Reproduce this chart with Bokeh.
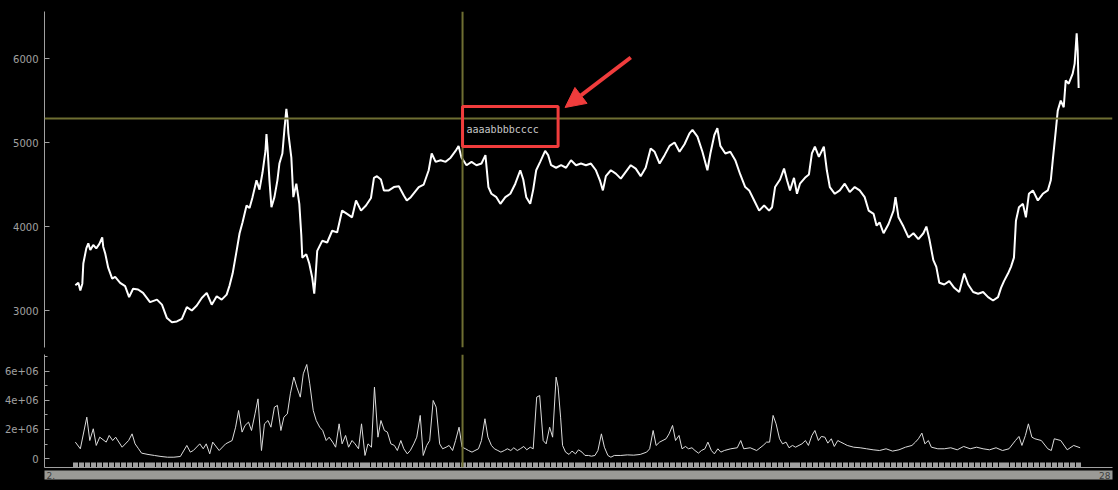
from bokeh.plotting import figure
from bokeh.layouts import column
from bokeh.models import (Span, BoxAnnotation, Arrow, NormalHead, FixedTicker,
                          Range1d, Label, CustomJSTickFormatter)
from bokeh.embed import file_html
from bokeh.resources import INLINE

# ---------------- data ----------------
price_days = [0, 6, 10, 14, 16, 22, 26, 30, 36, 42, 48, 54, 56, 60, 66, 74, 80, 90, 100, 108,
              116, 126, 136, 150, 164, 174, 184, 194, 204, 214, 224, 234, 244, 254, 264, 274, 284, 294, 304, 310,
              316, 324, 330, 336, 344, 350, 356, 364, 370, 376, 382, 384, 386, 390, 394, 400, 406, 410, 416, 420,
              424, 426, 428, 434, 438, 444, 450, 454, 456, 464, 470, 476, 480, 482, 486, 496, 506, 516, 526, 536,
              546, 556, 564, 574, 584, 594, 600, 606, 614, 620, 630, 640, 650, 660, 666, 674, 690, 700, 710, 716,
              724, 734, 744, 754, 764, 770, 776, 786, 796, 806, 816, 824, 830, 836, 846, 854, 864, 874, 884, 894,
              900, 906, 914, 920, 926, 934, 944, 950, 956, 966, 976, 986, 996, 1006, 1016, 1026, 1036, 1046, 1054, 1060,
              1066, 1076, 1086, 1096, 1106, 1116, 1126, 1136, 1146, 1156, 1164, 1174, 1184, 1194, 1204, 1214, 1224, 1234, 1240, 1250,
              1260, 1270, 1276, 1284, 1290, 1296, 1306, 1316, 1326, 1336, 1346, 1354, 1364, 1374, 1384, 1394, 1400, 1406, 1416, 1424,
              1430, 1436, 1444, 1450, 1456, 1466, 1474, 1480, 1486, 1494, 1504, 1510, 1516, 1526, 1536, 1546, 1556, 1566, 1576, 1586,
              1594, 1604, 1610, 1616, 1624, 1634, 1644, 1648, 1654, 1664, 1674, 1684, 1694, 1704, 1710, 1716, 1724, 1730, 1736, 1746,
              1756, 1766, 1776, 1786, 1794, 1804, 1814, 1824, 1834, 1844, 1854, 1860, 1866, 1874, 1880, 1886, 1890, 1896, 1904, 1910,
              1916, 1924, 1934, 1944, 1954, 1960, 1964, 1970, 1974, 1980, 1986, 1990, 1996, 2004, 2008, 2012, 2014, 2016]
price = [3300, 3330, 3240, 3320, 3560, 3740, 3800, 3720, 3780, 3740, 3790, 3870, 3760, 3680, 3510, 3380, 3400, 3330, 3290, 3160,
         3260, 3250, 3210, 3100, 3130, 3070, 2910, 2860, 2870, 2900, 3040, 3000, 3060, 3150, 3210, 3070, 3170, 3130, 3190, 3300,
         3440, 3710, 3920, 4050, 4250, 4220, 4350, 4550, 4440, 4640, 4900, 5100, 4950, 4550, 4230, 4350, 4550, 4750, 4870, 5150,
         5400, 5300, 5110, 4820, 4350, 4510, 4270, 3900, 3630, 3670, 3560, 3390, 3200, 3350, 3710, 3830, 3810, 3950, 3930, 4190,
         4150, 4110, 4310, 4190, 4250, 4340, 4580, 4600, 4560, 4430, 4430, 4470, 4480, 4370, 4310, 4350, 4470, 4500, 4670, 4870,
         4770, 4790, 4770, 4820, 4900, 4960, 4820, 4730, 4770, 4730, 4750, 4850, 4470, 4390, 4350, 4270, 4350, 4390, 4510, 4670,
         4560, 4350, 4270, 4440, 4670, 4770, 4900, 4850, 4730, 4700, 4730, 4700, 4790, 4730, 4750, 4730, 4750, 4670, 4550, 4430,
         4600, 4670, 4630, 4570, 4650, 4730, 4690, 4600, 4700, 4930, 4890, 4750, 4850, 4960, 5000, 4890, 4980, 5110, 5150, 5070,
         4890, 4670, 4870, 5090, 5170, 4960, 4870, 4890, 4790, 4620, 4470, 4430, 4310, 4190, 4250, 4190, 4230, 4470, 4560, 4690,
         4550, 4430, 4580, 4390, 4510, 4580, 4620, 4870, 4950, 4830, 4950, 4670, 4470, 4390, 4430, 4510, 4410, 4470, 4430, 4350,
         4190, 4150, 4010, 4050, 3920, 4030, 4190, 4350, 4110, 4000, 3870, 3920, 3850, 3920, 4000, 3850, 3600, 3520, 3330, 3310,
         3350, 3270, 3220, 3440, 3310, 3220, 3200, 3220, 3160, 3120, 3160, 3270, 3350, 3440, 3520, 3630, 4070, 4230, 4270, 4110,
         4390, 4430, 4310, 4390, 4430, 4550, 4790, 5140, 5380, 5500, 5420, 5740, 5700, 5820, 5940, 6300, 6100, 5650]

vol_days = [0, 10, 23, 29, 36, 42, 49, 62, 68, 75, 81, 94, 107, 114, 120, 127, 133, 146, 159, 172,
            185, 198, 211, 224, 231, 237, 250, 257, 263, 270, 276, 289, 302, 315, 322, 328, 335, 341, 348, 354,
            361, 367, 374, 380, 387, 393, 400, 406, 413, 419, 426, 432, 439, 445, 452, 458, 465, 471, 478, 484,
            491, 497, 504, 510, 517, 523, 530, 536, 543, 549, 556, 562, 569, 575, 582, 588, 595, 601, 608, 614,
            621, 627, 634, 641, 647, 654, 660, 667, 673, 680, 686, 693, 699, 706, 712, 719, 725, 732, 738, 745,
            751, 758, 764, 771, 777, 784, 790, 797, 803, 810, 816, 823, 829, 836, 842, 849, 855, 862, 868, 875,
            881, 888, 894, 901, 907, 914, 920, 927, 933, 940, 946, 953, 959, 966, 970, 975, 979, 985, 992, 998,
            1005, 1011, 1018, 1024, 1031, 1037, 1044, 1050, 1057, 1063, 1070, 1076, 1083, 1096, 1109, 1122, 1135, 1148, 1154, 1161,
            1167, 1174, 1187, 1193, 1200, 1206, 1213, 1219, 1226, 1232, 1239, 1245, 1252, 1258, 1265, 1271, 1278, 1284, 1291, 1297,
            1304, 1317, 1330, 1337, 1343, 1356, 1369, 1382, 1389, 1395, 1402, 1408, 1415, 1421, 1428, 1434, 1441, 1447, 1460, 1467,
            1473, 1480, 1486, 1493, 1499, 1506, 1512, 1519, 1525, 1532, 1538, 1545, 1551, 1564, 1577, 1590, 1603, 1616, 1629, 1642,
            1655, 1668, 1681, 1688, 1694, 1701, 1707, 1714, 1720, 1733, 1746, 1759, 1772, 1785, 1798, 1811, 1824, 1837, 1850, 1863,
            1876, 1889, 1896, 1902, 1909, 1915, 1922, 1928, 1941, 1954, 1961, 1967, 1980, 1993, 2006, 2019]
vol_m = [1.13, 0.67, 2.85, 1.24, 2.05, 0.90, 1.47, 1.13, 1.59, 1.24, 1.47, 0.78, 1.24, 1.70, 1.01, 0.67, 0.37, 0.28, 0.21, 0.14,
         0.09, 0.09, 0.14, 0.90, 0.44, 0.55, 1.01, 0.67, 1.01, 0.32, 1.13, 0.55, 1.01, 1.24, 2.16, 3.31, 1.82, 2.28, 2.51, 1.93,
         3.08, 4.11, 0.55, 2.39, 2.62, 2.16, 3.54, 3.66, 1.93, 2.85, 3.08, 4.46, 5.61, 4.92, 4.23, 5.84, 6.48, 5.15, 3.31, 2.62,
         2.16, 1.93, 1.24, 1.47, 1.13, 0.78, 2.39, 1.01, 1.59, 0.78, 1.24, 1.01, 0.67, 2.39, 0.21, 1.01, 0.78, 4.92, 1.47, 2.62,
         1.93, 1.82, 1.01, 0.90, 0.55, 1.24, 0.67, 0.32, 0.55, 1.01, 1.47, 2.97, 0.21, 0.90, 1.24, 4.00, 3.54, 1.01, 0.67, 0.78,
         0.90, 0.55, 1.24, 2.16, 0.78, 0.67, 0.55, 0.44, 0.55, 0.67, 1.24, 2.74, 1.47, 0.90, 0.67, 0.55, 0.44, 0.55, 0.67, 0.55,
         0.74, 0.55, 0.67, 0.83, 0.60, 0.78, 0.67, 4.23, 4.34, 1.24, 1.01, 2.16, 1.47, 5.61, 4.92, 2.85, 0.90, 0.44, 0.28, 0.51,
         0.32, 0.60, 0.44, 0.21, 0.21, 0.16, 0.21, 0.55, 1.70, 0.78, 0.21, 0.09, 0.21, 0.21, 0.25, 0.23, 0.28, 0.44, 0.67, 1.93,
         0.90, 1.13, 1.36, 1.70, 2.28, 1.24, 1.59, 0.67, 0.83, 0.67, 0.74, 0.55, 0.37, 0.55, 0.67, 1.13, 0.55, 0.32, 0.67, 0.44,
         0.55, 0.67, 0.74, 1.24, 0.67, 0.74, 0.55, 0.90, 1.13, 1.13, 2.97, 2.39, 1.36, 1.01, 1.13, 0.74, 0.90, 0.78, 1.01, 1.24,
         0.90, 1.59, 1.93, 1.24, 1.52, 1.47, 1.06, 1.36, 0.83, 1.24, 1.13, 1.01, 0.90, 0.78, 0.74, 0.67, 0.60, 0.55, 0.67, 0.51,
         0.60, 0.78, 0.90, 1.13, 1.36, 1.75, 1.01, 1.24, 0.78, 0.67, 0.67, 0.74, 0.60, 0.83, 0.67, 0.78, 0.67, 0.60, 0.74, 0.55,
         0.67, 1.24, 1.52, 0.90, 1.59, 2.39, 1.47, 1.36, 1.24, 0.67, 0.55, 1.36, 1.24, 0.60, 0.90, 0.74]
volume = [v * 1e6 for v in vol_m]

price_ticks = [3000, 4000, 5000, 6000]
vol_ticks = [0, 2e6, 4e6, 6e6]
vol_tick_labels = ["0", "2e+06", "4e+06", "6e+06"]
vol_minor_ticks = [1e6, 3e6, 5e6, 7e6]
date_label_fragments = ["2.", "28"]   # the only legible bits of the crowded date labels

cursor_day, cursor_price = 778, 5286
note_text = "aaaabbbbcccc"

# ---------------- styling ----------------
BG = "black"
AXIS = "#a0a0a0"
CROSS = "#6e6e32"
RED = "#f03c3c"
W = 1118
BLACK_BG = {"background-color": "black"}

xr = Range1d(-62, 2084)

def style(p):
    p.background_fill_color = BG
    p.border_fill_color = BG
    p.outline_line_color = None
    p.grid.visible = False

def style_yaxis(ax):
    ax.axis_line_color = AXIS
    ax.major_tick_line_color = AXIS
    ax.minor_tick_line_color = AXIS
    ax.major_tick_in = 5
    ax.major_tick_out = 0
    ax.minor_tick_in = 3
    ax.minor_tick_out = 0
    ax.major_label_text_color = AXIS
    ax.major_label_text_font = "DejaVu Sans"
    ax.major_label_text_font_size = "10px"
    ax.major_label_standoff = 6

# ---- price panel ----
p1 = figure(width=W, height=350, x_range=xr, y_range=Range1d(2560, 6560),
            x_axis_location=None, toolbar_location=None, output_backend="svg",
            min_border_left=44, min_border_right=1, min_border_top=11, min_border_bottom=3,
            styles=BLACK_BG)
style(p1)
p1.line(price_days, price, line_color="white", line_width=2)
p1.yaxis.ticker = FixedTicker(ticks=price_ticks)
style_yaxis(p1.yaxis[0])

p1.add_layout(Span(location=cursor_day, dimension="height", line_color=CROSS, line_width=2))
p1.add_layout(Span(location=cursor_price, dimension="width", line_color=CROSS, line_width=2))
p1.add_layout(BoxAnnotation(left=778, right=970, bottom=4952, top=5429,
                            fill_color=None, fill_alpha=0,
                            line_color=RED, line_alpha=1, line_width=3))
p1.add_layout(Label(x=786, y=5155, text=note_text, text_color="#c8c8c8",
                    text_font="DejaVu Sans Mono", text_font_size="10px",
                    text_baseline="middle"))
p1.add_layout(Arrow(x_start=1116, y_start=6012, x_end=984, y_end=5417,
                    line_color=RED, line_width=4,
                    end=NormalHead(size=20, fill_color=RED, line_color=RED)))

# ---- volume panel ----
p2 = figure(width=W, height=120, x_range=xr, y_range=Range1d(-0.62e6, 7.17e6),
            toolbar_location=None, output_backend="svg",
            min_border_left=44, min_border_right=1, min_border_top=4, min_border_bottom=3,
            styles=BLACK_BG)
style(p2)
p2.line(vol_days, volume, line_color="#dcdcdc", line_width=1)
p2.yaxis.ticker = FixedTicker(ticks=vol_ticks, minor_ticks=vol_minor_ticks)
p2.yaxis.major_label_overrides = dict(zip(vol_ticks, vol_tick_labels))
style_yaxis(p2.yaxis[0])
xa = p2.xaxis[0]
xa.ticker = FixedTicker(ticks=list(range(0, 2017, 12)))
xa.formatter = CustomJSTickFormatter(code="return ''")
xa.axis_line_color = AXIS
xa.major_tick_line_color = AXIS
xa.major_tick_line_width = 5
xa.major_tick_in = 5
xa.major_tick_out = 0
xa.minor_tick_line_color = None
xa.major_label_standoff = 0
p2.add_layout(Span(location=cursor_day, dimension="height", line_color=CROSS, line_width=2))

# ---- date-label band ----
p3 = figure(width=W, height=20, x_range=xr, y_range=Range1d(0, 1),
            toolbar_location=None, output_backend="svg",
            x_axis_location=None, y_axis_location=None,
            min_border_left=44, min_border_right=6, min_border_top=0, min_border_bottom=11,
            styles=BLACK_BG)
style(p3)
p3.background_fill_color = "#9a9a96"
p3.add_layout(Label(x=2, y=0.45, x_units="screen", y_units="data", text=date_label_fragments[0],
                    text_color="#3c3c3c", text_font="DejaVu Sans", text_font_size="9px",
                    text_baseline="middle", text_align="left"))
p3.add_layout(Label(x=1066, y=0.45, x_units="screen", y_units="data", text=date_label_fragments[1],
                    text_color="#3c3c3c", text_font="DejaVu Sans", text_font_size="9px",
                    text_baseline="middle", text_align="right"))

layout = column(p1, p2, p3, spacing=0, styles=BLACK_BG)

open("out.html", "w").write(file_html(layout, INLINE))
